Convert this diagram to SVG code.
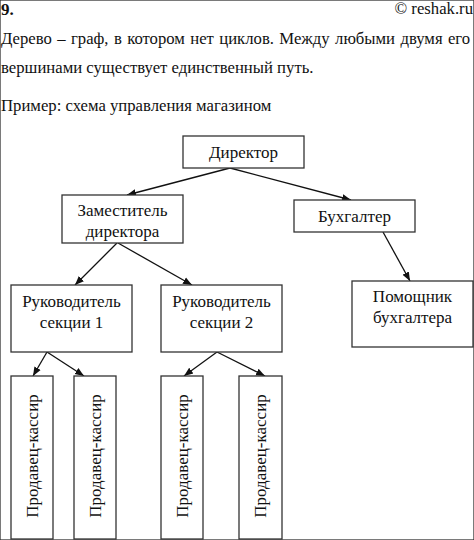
<svg xmlns="http://www.w3.org/2000/svg" width="474" height="540" viewBox="0 0 474 540">
<style>
text{font-family:"Liberation Serif","Times New Roman",serif;fill:#111}
.t{font-size:16.7px}
.n{font-size:17px;text-anchor:middle}
rect{fill:#fff;stroke:#333;stroke-width:1.3}
.c line{stroke:#111;stroke-width:1.3}
</style>
<defs>
<marker id="ah" viewBox="0 0 10 10" refX="10" refY="5" markerWidth="9" markerHeight="9" markerUnits="userSpaceOnUse" orient="auto">
<path d="M0,1 L10,5 L0,9 Z" fill="#111"/>
</marker>
</defs>
<rect x="0" y="0" width="474" height="540" fill="#fff" stroke="none"/>
<text x="1" y="15" style="font-size:17px;font-weight:bold">9.</text>
<text x="473" y="14" class="t" style="text-anchor:end">© reshak.ru</text>
<text x="1" y="44" class="t" style="word-spacing:1.2px">Дерево – граф, в котором нет циклов. Между любыми двумя его</text>
<text x="1" y="73" class="t">вершинами существует единственный путь.</text>
<text x="1" y="111" class="t">Пример: схема управления магазином</text>

<g class="c" id="connectors">
<line x1="230" y1="168" x2="127" y2="195" marker-end="url(#ah)"/>
<line x1="230" y1="168" x2="351" y2="200" marker-end="url(#ah)"/>
<line x1="117" y1="243" x2="75" y2="285" marker-end="url(#ah)"/>
<line x1="118" y1="243" x2="192" y2="285" marker-end="url(#ah)"/>
<line x1="383" y1="232" x2="410" y2="281" marker-end="url(#ah)"/>
<line x1="47" y1="352" x2="33" y2="376" marker-end="url(#ah)"/>
<line x1="47" y1="352" x2="84" y2="376" marker-end="url(#ah)"/>
<line x1="217" y1="352" x2="184" y2="376" marker-end="url(#ah)"/>
<line x1="217" y1="352" x2="265" y2="376" marker-end="url(#ah)"/>
</g>

<g id="director"><rect x="183" y="136" width="121" height="32"/><text class="n" x="243.5" y="158">Директор</text></g>
<g id="deputy"><rect x="62" y="195" width="121" height="48"/><text class="n" x="122.5" y="216">Заместитель</text><text class="n" x="122.5" y="237">директора</text></g>
<g id="accountant"><rect x="294" y="200" width="121" height="32"/><text class="n" x="354.5" y="222">Бухгалтер</text></g>
<g id="head1"><rect x="11" y="285" width="121" height="67"/><text class="n" x="71.5" y="307">Руководитель</text><text class="n" x="71.5" y="328">секции 1</text></g>
<g id="head2"><rect x="161" y="285" width="121" height="67"/><text class="n" x="221.5" y="307">Руководитель</text><text class="n" x="221.5" y="328">секции 2</text></g>
<g id="assistant"><rect x="352" y="281" width="121" height="66"/><text class="n" x="412.5" y="302">Помощник</text><text class="n" x="412.5" y="323">бухгалтера</text></g>
<g id="seller1"><rect x="11" y="376" width="42" height="163"/><text class="n" transform="translate(38,456) rotate(-90)">Продавец-кассир</text></g>
<g id="seller2"><rect x="74" y="376" width="42" height="163"/><text class="n" transform="translate(101,456) rotate(-90)">Продавец-кассир</text></g>
<g id="seller3"><rect x="161" y="376" width="42" height="163"/><text class="n" transform="translate(188,456) rotate(-90)">Продавец-кассир</text></g>
<g id="seller4"><rect x="239" y="376" width="43" height="163"/><text class="n" transform="translate(266,456) rotate(-90)">Продавец-кассир</text></g>
</svg>
